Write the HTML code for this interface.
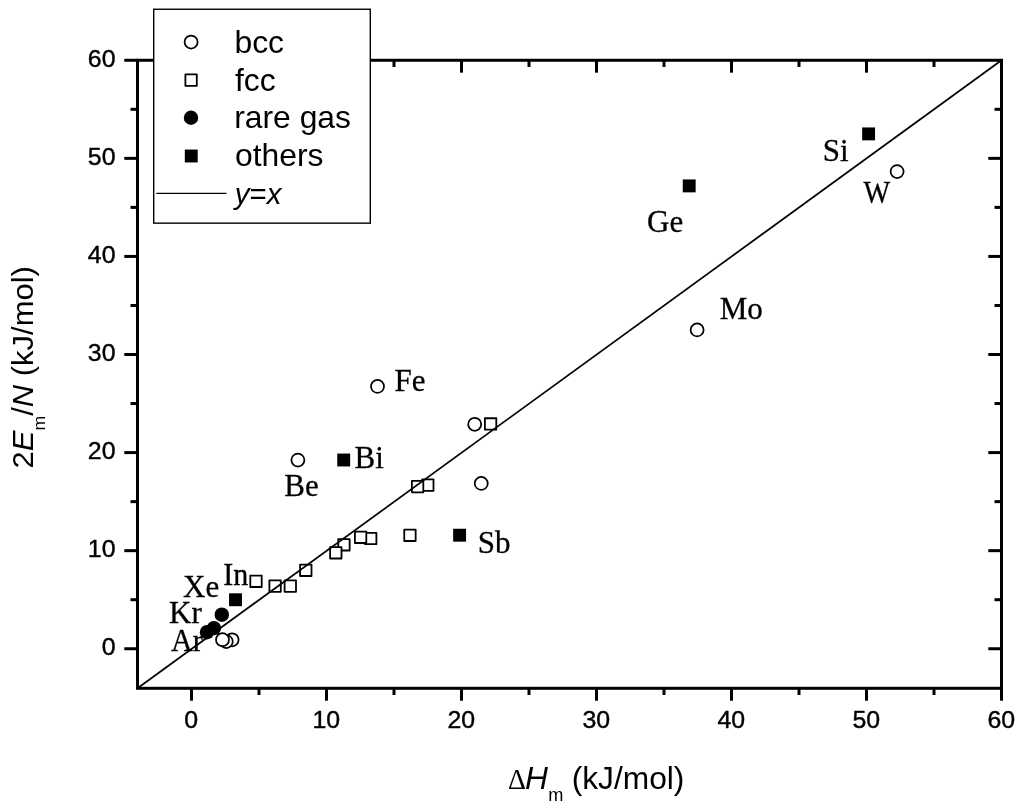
<!DOCTYPE html>
<html lang="en"><head><meta charset="utf-8"><title>Plot</title>
<style>html,body{margin:0;padding:0;background:#fff;}svg{display:block;}.sans{font-family:"Liberation Sans",Arial,sans-serif;}.serif{font-family:"Liberation Serif","Times New Roman",serif;}.tk{stroke:#000;stroke-width:0.4px;}.sb{stroke:#000;stroke-width:0.3px;}text{fill:#000;}</style></head><body>
<svg width="1024" height="806" viewBox="0 0 1024 806">
<rect x="0" y="0" width="1024" height="806" fill="#fff"/>
<g fill="#fff" stroke="#000" stroke-width="1.75">
<circle cx="897.1" cy="171.6" r="6.5"/>
<circle cx="697.1" cy="329.9" r="6.5"/>
<circle cx="481.25" cy="483.4" r="6.5"/>
<circle cx="474.7" cy="424.3" r="6.5"/>
<circle cx="377.5" cy="386.4" r="6.5"/>
<circle cx="297.9" cy="460.1" r="6.5"/>
<circle cx="232.1" cy="639.8" r="6.5"/>
<circle cx="226.25" cy="641.6" r="6.5"/>
<circle cx="222.5" cy="639.7" r="6.5"/>
</g>
<g fill="#fff" stroke="#000" stroke-width="1.8" stroke-linejoin="round">
<rect x="484.9" y="418.25" width="11.4" height="11.4"/>
<rect x="422.1" y="479.4" width="11.4" height="11.4"/>
<rect x="411.9" y="480.9" width="11.4" height="11.4"/>
<rect x="404.25" y="529.6" width="11.4" height="11.4"/>
<rect x="365" y="532.8" width="11.4" height="11.4"/>
<rect x="354.9" y="531.6" width="11.4" height="11.4"/>
<rect x="338.25" y="539.1" width="11.4" height="11.4"/>
<rect x="330.1" y="547.1" width="11.4" height="11.4"/>
<rect x="300.1" y="564.6" width="11.4" height="11.4"/>
<rect x="284.6" y="580.4" width="11.4" height="11.4"/>
<rect x="269.4" y="580.4" width="11.4" height="11.4"/>
<rect x="250.3" y="575.6" width="11.4" height="11.4"/>
</g>
<g fill="#000">
<circle cx="221.8" cy="614.7" r="7.2"/>
<circle cx="213.9" cy="628.1" r="7.2"/>
<circle cx="207" cy="632.2" r="7.2"/>
<rect x="862.15" y="127.45" width="12.9" height="12.9"/>
<rect x="682.75" y="179.45" width="12.9" height="12.9"/>
<rect x="453.15" y="528.75" width="12.9" height="12.9"/>
<rect x="337.25" y="453.55" width="12.9" height="12.9"/>
<rect x="229.05" y="593.3" width="12.9" height="12.9"/>
</g>
<line x1="137.5" y1="688.3" x2="1001.5" y2="60.27" stroke="#000" stroke-width="1.7"/>
<g stroke="#000" stroke-width="3">
<line x1="191.5" y1="688.3" x2="191.5" y2="700.7"/>
<line x1="191.5" y1="60.27" x2="191.5" y2="72.67"/>
<line x1="259" y1="688.3" x2="259" y2="695"/>
<line x1="259" y1="60.27" x2="259" y2="66.97"/>
<line x1="326.5" y1="688.3" x2="326.5" y2="700.7"/>
<line x1="326.5" y1="60.27" x2="326.5" y2="72.67"/>
<line x1="394" y1="688.3" x2="394" y2="695"/>
<line x1="394" y1="60.27" x2="394" y2="66.97"/>
<line x1="461.5" y1="688.3" x2="461.5" y2="700.7"/>
<line x1="461.5" y1="60.27" x2="461.5" y2="72.67"/>
<line x1="529" y1="688.3" x2="529" y2="695"/>
<line x1="529" y1="60.27" x2="529" y2="66.97"/>
<line x1="596.5" y1="688.3" x2="596.5" y2="700.7"/>
<line x1="596.5" y1="60.27" x2="596.5" y2="72.67"/>
<line x1="664" y1="688.3" x2="664" y2="695"/>
<line x1="664" y1="60.27" x2="664" y2="66.97"/>
<line x1="731.5" y1="688.3" x2="731.5" y2="700.7"/>
<line x1="731.5" y1="60.27" x2="731.5" y2="72.67"/>
<line x1="799" y1="688.3" x2="799" y2="695"/>
<line x1="799" y1="60.27" x2="799" y2="66.97"/>
<line x1="866.5" y1="688.3" x2="866.5" y2="700.7"/>
<line x1="866.5" y1="60.27" x2="866.5" y2="72.67"/>
<line x1="934" y1="688.3" x2="934" y2="695"/>
<line x1="934" y1="60.27" x2="934" y2="66.97"/>
<line x1="137.5" y1="648.75" x2="124.3" y2="648.75"/>
<line x1="1001.5" y1="648.75" x2="988.3" y2="648.75"/>
<line x1="137.5" y1="599.71" x2="130.5" y2="599.71"/>
<line x1="1001.5" y1="599.71" x2="994.5" y2="599.71"/>
<line x1="137.5" y1="550.67" x2="124.3" y2="550.67"/>
<line x1="1001.5" y1="550.67" x2="988.3" y2="550.67"/>
<line x1="137.5" y1="501.63" x2="130.5" y2="501.63"/>
<line x1="1001.5" y1="501.63" x2="994.5" y2="501.63"/>
<line x1="137.5" y1="452.59" x2="124.3" y2="452.59"/>
<line x1="1001.5" y1="452.59" x2="988.3" y2="452.59"/>
<line x1="137.5" y1="403.55" x2="130.5" y2="403.55"/>
<line x1="1001.5" y1="403.55" x2="994.5" y2="403.55"/>
<line x1="137.5" y1="354.51" x2="124.3" y2="354.51"/>
<line x1="1001.5" y1="354.51" x2="988.3" y2="354.51"/>
<line x1="137.5" y1="305.47" x2="130.5" y2="305.47"/>
<line x1="1001.5" y1="305.47" x2="994.5" y2="305.47"/>
<line x1="137.5" y1="256.43" x2="124.3" y2="256.43"/>
<line x1="1001.5" y1="256.43" x2="988.3" y2="256.43"/>
<line x1="137.5" y1="207.39" x2="130.5" y2="207.39"/>
<line x1="1001.5" y1="207.39" x2="994.5" y2="207.39"/>
<line x1="137.5" y1="158.35" x2="124.3" y2="158.35"/>
<line x1="1001.5" y1="158.35" x2="988.3" y2="158.35"/>
<line x1="137.5" y1="109.31" x2="130.5" y2="109.31"/>
<line x1="1001.5" y1="109.31" x2="994.5" y2="109.31"/>
<line x1="137.5" y1="60.27" x2="124.3" y2="60.27"/>
<line x1="1001.5" y1="688.3" x2="1001.5" y2="700.7"/>
</g>
<rect x="137.5" y="60.27" width="864" height="628.03" fill="none" stroke="#000" stroke-width="3"/>
<text class="sans tk" font-size="24.4" text-anchor="middle" transform="translate(191.2 728.35) scale(1.02 1)">0</text>
<text class="sans tk" font-size="24.4" text-anchor="middle" transform="translate(326.2 728.35) scale(1.02 1)">10</text>
<text class="sans tk" font-size="24.4" text-anchor="middle" transform="translate(461.2 728.35) scale(1.02 1)">20</text>
<text class="sans tk" font-size="24.4" text-anchor="middle" transform="translate(596.2 728.35) scale(1.02 1)">30</text>
<text class="sans tk" font-size="24.4" text-anchor="middle" transform="translate(731.2 728.35) scale(1.02 1)">40</text>
<text class="sans tk" font-size="24.4" text-anchor="middle" transform="translate(866.2 728.35) scale(1.02 1)">50</text>
<text class="sans tk" font-size="24.4" text-anchor="middle" transform="translate(1001.2 728.35) scale(1.02 1)">60</text>
<text class="sans tk" font-size="24.4" text-anchor="end" transform="translate(115.5 655.35) scale(1.02 1)">0</text>
<text class="sans tk" font-size="24.4" text-anchor="end" transform="translate(115.5 557.27) scale(1.02 1)">10</text>
<text class="sans tk" font-size="24.4" text-anchor="end" transform="translate(115.5 459.19) scale(1.02 1)">20</text>
<text class="sans tk" font-size="24.4" text-anchor="end" transform="translate(115.5 361.11) scale(1.02 1)">30</text>
<text class="sans tk" font-size="24.4" text-anchor="end" transform="translate(115.5 263.03) scale(1.02 1)">40</text>
<text class="sans tk" font-size="24.4" text-anchor="end" transform="translate(115.5 164.95) scale(1.02 1)">50</text>
<text class="sans tk" font-size="24.4" text-anchor="end" transform="translate(115.5 66.87) scale(1.02 1)">60</text>
<text class="serif" font-size="29" text-anchor="start" transform="translate(507.9 788.6) scale(0.96 1)">Δ</text>
<text class="sans" font-size="30.5" text-anchor="start" transform="translate(525.1 788.6) scale(1.04 1)"><tspan font-style="italic">H</tspan><tspan font-size="17.5" dy="12.4" dx="0.2">m</tspan><tspan dy="-12.4" dx="-0.5"> (kJ/mol)</tspan></text>
<text class="sans" font-size="30.5" transform="translate(32.6 468.4) rotate(-90) scale(1.015 0.995)">2<tspan font-style="italic">E</tspan><tspan font-size="17.5" dy="12">m</tspan><tspan dy="-12">/</tspan><tspan font-style="italic">N</tspan> (kJ/mol)</text>
<text class="serif sb" font-size="31" text-anchor="start" transform="translate(171.05 650.85) scale(0.97 1)">Ar</text>
<text class="serif sb" font-size="31" text-anchor="start" transform="translate(169.1 622.7) scale(1 1)">Kr</text>
<text class="serif sb" font-size="31" text-anchor="start" transform="translate(183.05 597.3) scale(1 1)">Xe</text>
<text class="serif sb" font-size="30.6" text-anchor="start" transform="translate(223.25 584.8) scale(0.98268 1)">In</text>
<text class="serif sb" font-size="31.5" text-anchor="start" transform="translate(284.35 495.8) scale(0.984127 1)">Be</text>
<text class="serif sb" font-size="31.5" text-anchor="start" transform="translate(354.5 467.75) scale(0.984127 1)">Bi</text>
<text class="serif sb" font-size="31.5" text-anchor="start" transform="translate(394.5 390.7) scale(0.984127 1)">Fe</text>
<text class="serif sb" font-size="31.5" text-anchor="start" transform="translate(477.8 552.6) scale(0.984127 1)">Sb</text>
<text class="serif sb" font-size="32" text-anchor="start" transform="translate(719.8 319) scale(0.96875 1)">Mo</text>
<text class="serif sb" font-size="32" text-anchor="start" transform="translate(647.1 231.5) scale(0.96875 1)">Ge</text>
<text class="serif sb" font-size="32" text-anchor="start" transform="translate(822.7 161.4) scale(0.96875 1)">Si</text>
<text class="serif sb" font-size="31.5" text-anchor="start" transform="translate(863.55 202.9) scale(0.895556 1)">W</text>
<rect x="153.7" y="9.25" width="216.6" height="213.9" fill="#fff" stroke="#000" stroke-width="1.4"/>
<circle cx="191.1" cy="42.05" r="6.5" fill="#fff" stroke="#000" stroke-width="1.75"/>
<rect x="185.4" y="74.4" width="11.4" height="11.4" fill="#fff" stroke="#000" stroke-width="1.8" stroke-linejoin="round"/>
<circle cx="191" cy="117.75" r="7.2" fill="#000"/>
<rect x="184.8" y="149.55" width="12.9" height="12.9" fill="#000"/>
<line x1="156.25" y1="193.4" x2="226.5" y2="193.4" stroke="#000" stroke-width="1.4"/>
<text class="sans" font-size="30.5" text-anchor="start" transform="translate(234.5 52.7) scale(1.044 1)">bcc</text>
<text class="sans" font-size="30.5" text-anchor="start" transform="translate(235 90.5) scale(1.044 1)">fcc</text>
<text class="sans" font-size="30.5" text-anchor="start" transform="translate(234.2 128.1) scale(1.044 1)">rare gas</text>
<text class="sans" font-size="30.5" text-anchor="start" transform="translate(235 166.1) scale(1.044 1)">others</text>
<text class="sans" font-size="29.5" text-anchor="start" transform="translate(234.8 203.7) scale(1 1)"><tspan font-style="italic">y</tspan>=<tspan font-style="italic">x</tspan></text>
</svg></body></html>
